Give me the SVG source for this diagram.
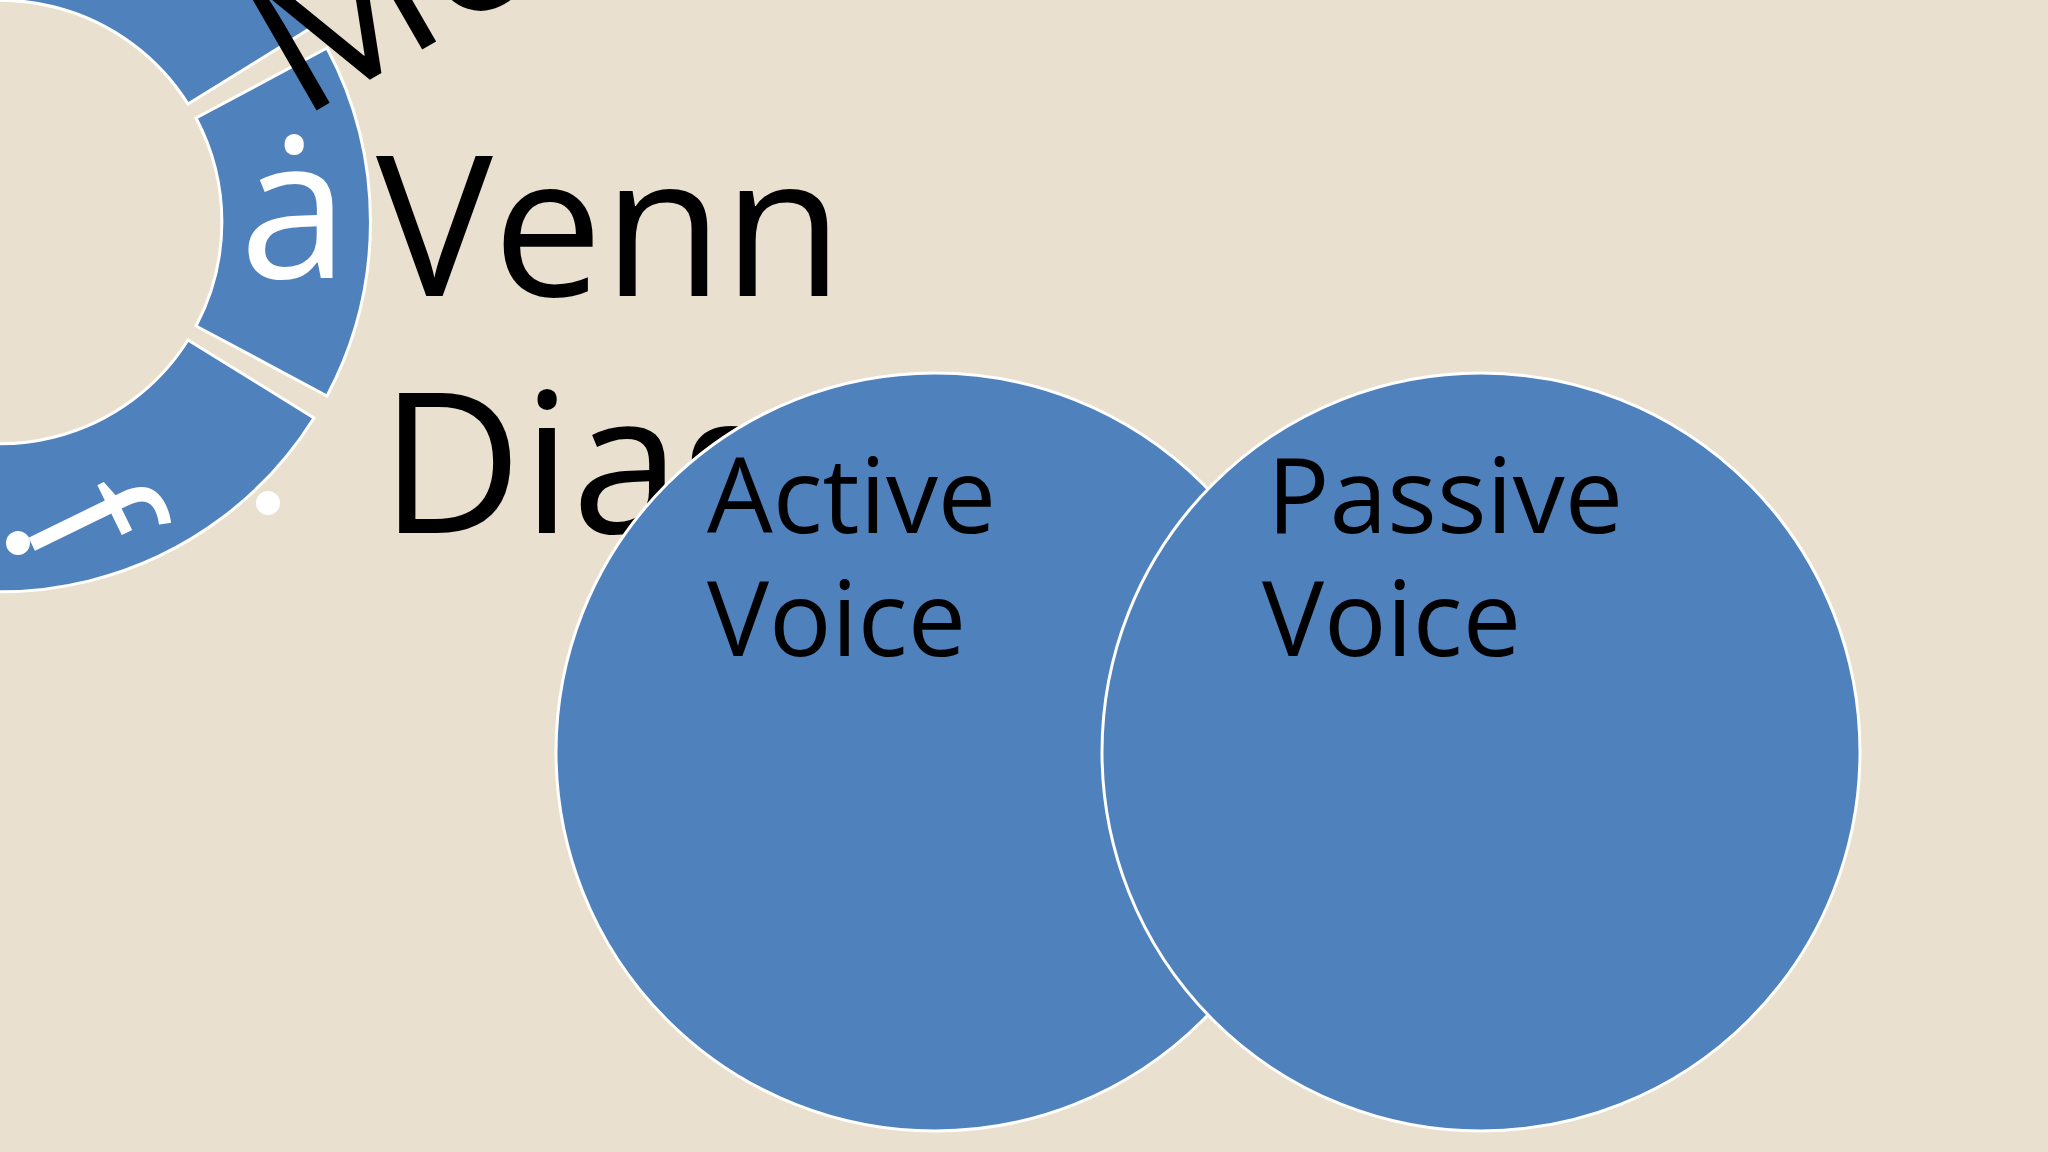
<svg xmlns="http://www.w3.org/2000/svg" width="2048" height="1152" viewBox="0 0 2048 1152">
<style>
.seg{fill:#4F81BD;stroke:#fff;stroke-width:3}
.wt{fill:#fff;font-family:"Open Sans","Noto Sans",sans-serif}
.bt{fill:#000;font-family:"Open Sans","Noto Sans",sans-serif}
</style>
<rect width="2048" height="1152" fill="#E9E0CF"/>
<g id="ring">
<path class="seg" d="M188,104 L314,26 A370,370 0 0 0 -185,-98 L-111,30 A222,222 0 0 1 188,104 Z"/>
<path class="seg" d="M196,118 L327,48 A370,370 0 0 1 327,396 L196,326 A222,222 0 0 0 196,118 Z"/>
<path class="seg" d="M188,340 L314,418 A370,370 0 0 1 -185,542 L-111,414 A222,222 0 0 0 188,340 Z"/>
<text class="wt" x="294" y="278" font-size="196" text-anchor="middle">ȧ</text>
<text class="wt" font-size="180" transform="translate(20,520) rotate(64)">f</text>
<circle cx="18" cy="543" r="12" fill="#fff"/>
<circle cx="268" cy="503" r="12" fill="#fff"/>
</g>
<g id="title">
<text class="bt" font-size="196" transform="translate(300,120) rotate(-30)">Mo</text>
<text class="bt" x="376" y="296" font-size="196">Venn</text>
<text class="bt" x="380" y="533" font-size="196">Diagram</text>
</g>
<g id="active">
<circle cx="935" cy="752" r="379" fill="#4F81BD" stroke="#fff" stroke-width="3"/>
</g>
<g id="passive">
<circle cx="1481" cy="752" r="379" fill="#4F81BD" stroke="#fff" stroke-width="3"/>
</g>
<g id="labels">
<text class="bt" x="707" y="533" font-size="104">Active</text>
<text class="bt" x="707" y="656" font-size="104">Voice</text>
<text class="bt" x="1267" y="533" font-size="104">Passive</text>
<text class="bt" x="1262" y="656" font-size="104">Voice</text>
</g>
</svg>
